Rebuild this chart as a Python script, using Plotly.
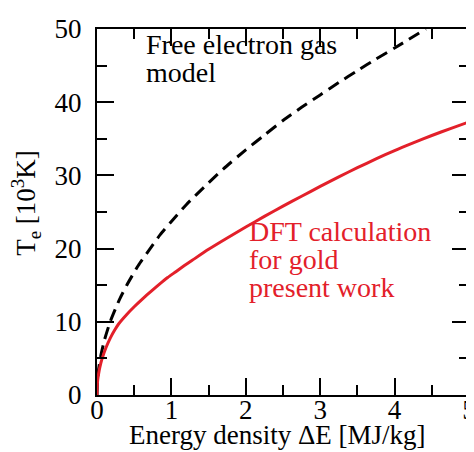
import plotly.graph_objects as go

# values
free_e = [0, 0.005, 0.02, 0.05, 0.1, 0.177, 0.3, 0.4, 0.555, 0.7, 0.85, 1, 1.2, 1.46, 1.7,
          2, 2.25, 2.5, 2.75, 3, 3.25, 3.5, 3.75, 4, 4.42]
free_t = [0, 1.7, 3.4, 5.3, 7.5, 10.0, 13.0, 15.0, 17.7, 19.8, 21.9, 23.7, 26.0, 28.6, 30.9,
          33.5, 35.5, 37.5, 39.3, 41.0, 42.7, 44.3, 45.9, 47.4, 50.0]

dft_e = [0, 0.002, 0.01, 0.03, 0.05, 0.07, 0.12, 0.18, 0.24, 0.29, 0.4, 0.5, 0.62, 0.73,
         0.84, 0.95, 1.06, 1.17, 1.28, 1.5, 1.75, 2, 2.25, 2.5, 2.75, 3, 3.25, 3.5,
         3.75, 4, 4.25, 4.5, 4.75, 5]
dft_t = [0, 1.0, 2.1, 3.4, 4.3, 5.0, 6.45, 7.8, 8.9, 9.7, 11.0, 12.05, 13.2, 14.2,
         15.15, 16.05, 16.85, 17.65, 18.4, 19.9, 21.45, 22.95, 24.4, 25.8, 27.15, 28.5, 29.8, 31.05,
         32.25, 33.4, 34.45, 35.45, 36.4, 37.3]

x_ticks = [0, 1, 2, 3, 4, 5]
y_ticks = [0, 10, 20, 30, 40, 50]

free_label = ["Free electron gas", "model"]
dft_label = ["DFT calculation", "for gold", "present work"]

RED = "#e3202a"
FONT = "Liberation Serif"

fig = go.Figure()
fig.add_trace(go.Scatter(x=free_e, y=free_t, mode="lines", line_shape="spline",
                         line=dict(color="black", width=3, dash="12px,7px", smoothing=0.5),
                         showlegend=False))
fig.add_trace(go.Scatter(x=dft_e, y=dft_t, mode="lines", line_shape="spline",
                         line=dict(color=RED, width=3, smoothing=0.5), showlegend=False))

# text in the plot, one line per annotation to keep the tight line spacing
for i, line in enumerate(free_label):
    fig.add_annotation(x=0.63, y=47.9 - 3.85 * i, xanchor="left", yanchor="middle",
                       text=line, showarrow=False,
                       font=dict(family=FONT, size=28, color="black"))
for i, line in enumerate(dft_label):
    fig.add_annotation(x=2.02, y=22.3 - 3.8 * i, xanchor="left", yanchor="middle",
                       text=line, showarrow=False,
                       font=dict(family=FONT, size=28, color=RED))

# axis titles
fig.add_annotation(x=0.486, y=0, xref="paper", yref="paper", yshift=-40,
                   xanchor="center", yanchor="middle", showarrow=False,
                   text="Energy density \u0394E [MJ/kg]",
                   font=dict(family=FONT, size=27, color="black"))
fig.add_annotation(x=0, y=0.525, xref="paper", yref="paper", xshift=-71,
                   xanchor="center", yanchor="middle", showarrow=False, textangle=-90,
                   text="T<sub>e</sub> [10<sup>3</sup>K]",
                   font=dict(family=FONT, size=27, color="black"))

axis_common = dict(showline=True, linecolor="black", linewidth=2, mirror="allticks",
                   ticks="inside", ticklen=17, tickwidth=2, tickcolor="black",
                   showgrid=False, zeroline=False, ticklabeloverflow="allow",
                   tickfont=dict(family=FONT, size=27, color="black"))

fig.update_xaxes(range=[0, 5], tickvals=x_ticks, ticklabelstandoff=-10,
                 minor=dict(dtick=0.5, ticks="inside", ticklen=10, tickwidth=2, tickcolor="black"),
                 **axis_common)
fig.update_yaxes(range=[0, 50], tickvals=y_ticks, ticklabelstandoff=8,
                 minor=dict(dtick=5, ticks="inside", ticklen=10, tickwidth=2, tickcolor="black"),
                 **axis_common)

fig.update_layout(width=474, height=452, margin=dict(l=89, r=6, t=10, b=65),
                  plot_bgcolor="white", paper_bgcolor="white")

fig.write_html("out.html")
